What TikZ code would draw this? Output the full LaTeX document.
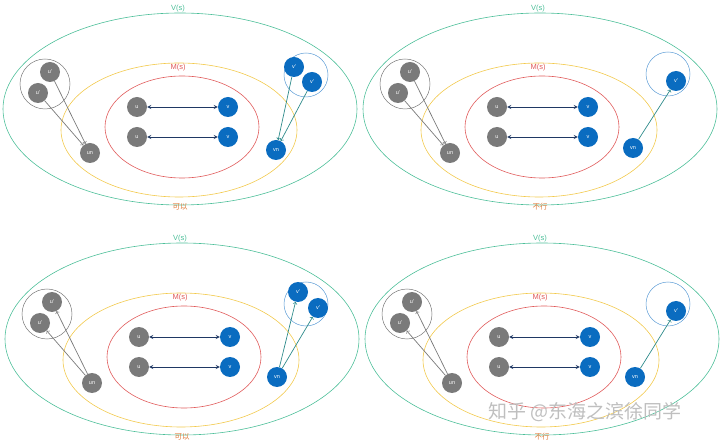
\documentclass[tikz,border=0pt]{standalone}
\usepackage{fontspec}
\setmainfont{Liberation Sans}
\newfontfamily\cjk{Noto Sans CJK SC}
\definecolor{vgreen}{HTML}{4DBF99}
\definecolor{myellow}{HTML}{F2C94C}
\definecolor{mred}{HTML}{E05A5A}
\definecolor{ngray}{HTML}{7A7A7A}
\definecolor{nblue}{HTML}{0A6CC0}
\definecolor{navy}{HTML}{1F3864}
\definecolor{lblorange}{HTML}{E07B39}
\definecolor{tealar}{HTML}{2E8B8B}
\definecolor{grpblue}{HTML}{5B9BD5}
\tikzset{
  gnode/.style={circle,fill=ngray,minimum size=20pt,inner sep=0pt,text=white,font=\fontsize{5.5}{6}\selectfont},
  bnode/.style={circle,fill=nblue,minimum size=20pt,inner sep=0pt,text=white,font=\fontsize{5.5}{6}\selectfont},
  marr/.style={<->,>=stealth,navy,line width=0.8pt},
  garr/.style={->,ngray,line width=0.7pt},
  barr/.style={->,tealar,line width=0.7pt},
  lbl/.style={font=\fontsize{7.5}{8}\selectfont},
}
\newcommand\basepanel[2]{%
  \draw[vgreen,line width=0.6pt] (180,109) ellipse [x radius=177,y radius=96];
  \node[lbl,text=vgreen] (#1V) at (178,9) {V(s)};
  \draw[myellow,line width=0.6pt] (179,130) ellipse [x radius=118,y radius=67];
  \draw[mred,line width=0.6pt] (182,127) ellipse [x radius=77,y radius=51];
  \node[lbl,text=mred] (#1M) at (178,68) {M(s)};
  \node[lbl,text=lblorange] (#1L) at (180,207) {\cjk #2};
  \node[gnode] (#1u1) at (137,107) {u};
  \node[gnode] (#1u2) at (137,137) {u};
  \node[bnode] (#1v1) at (228,107) {v};
  \node[bnode] (#1v2) at (228,137) {v};
  \draw[marr] (#1u1) -- (#1v1);
  \draw[marr] (#1u2) -- (#1v2);
  \draw[ngray,line width=0.5pt] (45,84) circle [radius=25];
  \node[gnode] (#1a1) at (50,72) {u'};
  \node[gnode] (#1a2) at (38,93) {u'};
  \node[gnode] (#1un) at (90,153) {un};
}
\begin{document}
\begin{tikzpicture}[x=1pt,y=-1pt]
\useasboundingbox (0,0) rectangle (720,443);
% top-left
\begin{scope}
\basepanel{p}{可以}
\draw[grpblue,line width=0.5pt] (306,75) circle [radius=22];
\node[bnode] (pb1) at (294,67) {v'};
\node[bnode] (pb2) at (312,82) {v'};
\node[bnode] (pvn) at (276,150) {vn};
\draw[garr] (pa1) -- (pun);
\draw[garr] (pa2) -- (pun);
\draw[barr] (pb1) -- (pvn);
\draw[barr] (pb2) -- (pvn);
\end{scope}
% top-right
\begin{scope}[shift={(360,0)}]
\basepanel{q}{不行}
\draw[grpblue,line width=0.5pt] (308,74) circle [radius=22];
\node[bnode] (qb1) at (316,81) {v'};
\node[bnode] (qvn) at (273,148) {vn};
\draw[garr] (qa1) -- (qun);
\draw[garr] (qa2) -- (qun);
\draw[barr] (qvn) -- (qb1);
\end{scope}
% bottom-left
\begin{scope}[shift={(2,230)}]
\basepanel{r}{可以}
\draw[grpblue,line width=0.5pt] (304,74) circle [radius=22];
\node[bnode] (rb1) at (296,62) {v'};
\node[bnode] (rb2) at (316,78) {v'};
\node[bnode] (rvn) at (275,147) {vn};
\draw[garr] (run) -- (ra1);
\draw[garr] (run) -- (ra2);
\draw[barr] (rvn) -- (rb1);
\draw[barr] (rvn) -- (rb2);
\end{scope}
% bottom-right
\begin{scope}[shift={(362,230)}]
\basepanel{s}{不行}
\draw[grpblue,line width=0.5pt] (306,74) circle [radius=22];
\node[bnode] (sb1) at (314,81) {v'};
\node[bnode] (svn) at (273,147) {vn};
\draw[garr] (sun) -- (sa1);
\draw[garr] (sun) -- (sa2);
\draw[barr] (svn) -- (sb1);
\end{scope}
\node[text=black!25,font=\cjk\fontsize{19}{22}\selectfont] (wm) at (585,412) {知乎 @东海之滨徐同学};
\end{tikzpicture}
\end{document}
